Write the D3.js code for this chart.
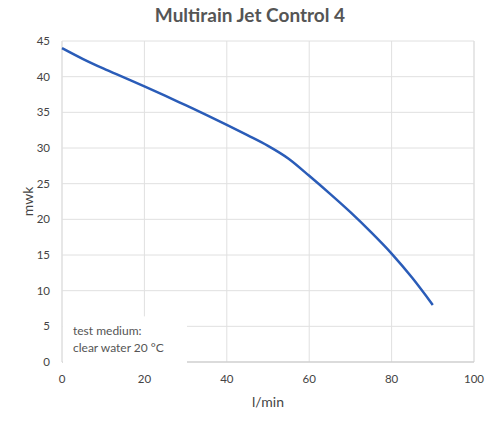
<!DOCTYPE html>
<html><head><meta charset="utf-8">
<script src="https://cdn.jsdelivr.net/npm/d3@7"></script>
<style>body{margin:0;background:#fff}svg{display:block}text{font-family:Lato,"Open Sans",sans-serif}</style>
</head><body><div id="chart"></div>
<script>
const flow = [0,5,10,15,20,25,30,35,40,45,50,55,60,65,70,75,80,85,90];
const head = [44,42.5,41.15,39.9,38.65,37.35,36.0,34.65,33.25,31.8,30.3,28.5,26.1,23.6,21.0,18.2,15.2,11.8,8.0];
const xTicks = [0,20,40,60,80,100];
const yTicks = [0,5,10,15,20,25,30,35,40,45];
const title = "Multirain Jet Control 4";
const xLabel = "l/min", yLabel = "mwk";
const noteLines = ["test medium:", "clear water 20 °C"];

const W=500,H=427, m={l:62,r:26,t:41,b:65};
const svg=d3.select("#chart").append("svg").attr("width",W).attr("height",H);
const x=d3.scaleLinear().domain([0,100]).range([m.l,W-m.r]);
const y=d3.scaleLinear().domain([0,45]).range([H-m.b,m.t]);

const g=svg.append("g");
g.selectAll(".gx").data(xTicks).join("line").attr("x1",d=>x(d)).attr("x2",d=>x(d))
 .attr("y1",y(45)).attr("y2",y(0)).attr("stroke",d=>d===0||d===100?"#cfcfcf":"#e0e0e0").attr("stroke-width",1);
g.selectAll(".gy").data(yTicks).join("line").attr("x1",x(0)).attr("x2",x(100))
 .attr("y1",d=>y(d)).attr("y2",d=>y(d)).attr("stroke",d=>d===0?"#cfcfcf":"#e0e0e0").attr("stroke-width",d=>d===0?1.5:1);

g.selectAll(".tx").data(xTicks).join("text").attr("x",d=>x(d)).attr("y",y(0)+21)
 .attr("text-anchor","middle").attr("font-size",11.5).attr("fill","#444").text(d=>d);
g.selectAll(".ty").data(yTicks).join("text").attr("x",x(0)-12).attr("y",d=>y(d)+4)
 .attr("text-anchor","end").attr("font-size",11.5).attr("fill","#444").text(d=>d);

svg.append("rect").attr("x",x(0)+1).attr("y",y(6.4)).attr("width",124).attr("height",y(0)-y(6.4)+1).attr("fill","#fff");
svg.append("line").attr("x1",x(0)).attr("x2",x(0)).attr("y1",y(6.4)).attr("y2",y(0)).attr("stroke","#e6e6e6");
svg.selectAll(".note").data(noteLines).join("text").attr("x",x(0)+11).attr("y",(d,i)=>335+i*17)
 .attr("font-size",12).attr("fill","#555").text(d=>d);

const line=d3.line().x((d,i)=>x(flow[i])).y(d=>y(d)).curve(d3.curveMonotoneX);
svg.append("path").attr("d",line(head)).attr("fill","none").attr("stroke","#2a5cb8").attr("stroke-width",2.5);

svg.append("text").attr("x",250).attr("y",22).attr("text-anchor","middle").attr("font-size",19).attr("font-weight","bold").attr("fill","#555").text(title);
svg.append("text").attr("x",(x(0)+x(100))/2).attr("y",407).attr("text-anchor","middle").attr("font-size",14).attr("fill","#444").text(xLabel);
svg.append("text").attr("transform",`translate(33,${(y(0)+y(45))/2}) rotate(-90)`).attr("text-anchor","middle").attr("font-size",14).attr("fill","#444").text(yLabel);
</script></body></html>
